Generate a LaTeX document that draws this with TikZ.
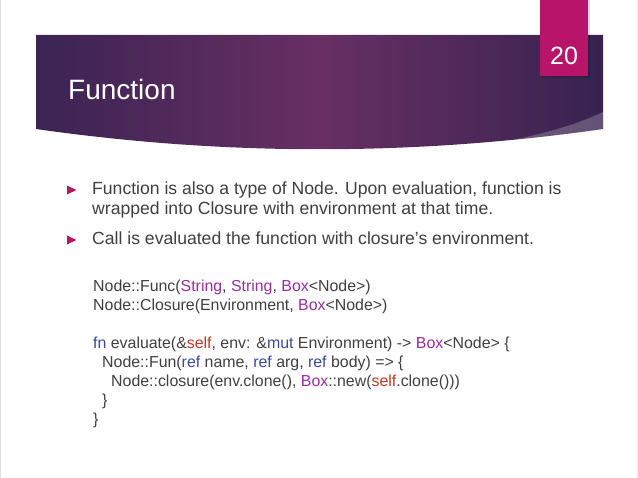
\documentclass[tikz,border=0pt]{standalone}
\usepackage{fontspec}
\setmainfont{Liberation Sans}
\definecolor{bandL}{HTML}{3B2453}
\definecolor{bandM}{HTML}{682F63}
\definecolor{bandR}{HTML}{372350}
\definecolor{tabc}{HTML}{B8146A}
\definecolor{bul}{HTML}{B5185E}
\definecolor{txt}{HTML}{404040}
\definecolor{kwp}{HTML}{9B2D9F}
\definecolor{kwr}{HTML}{C0392B}
\definecolor{kwb}{HTML}{3A4A9E}
\newcommand{\kp}[1]{\textcolor{kwp}{#1}}
\newcommand{\kr}[1]{\textcolor{kwr}{#1}}
\newcommand{\kb}[1]{\textcolor{kwb}{#1}}
\begin{document}
\begin{tikzpicture}[x=1pt,y=-1pt,
  bodytext/.style={anchor=base west,inner sep=0pt,text=txt,font=\fontsize{17.6}{20}\selectfont},
  codeline/.style={anchor=base west,inner sep=0pt,text=txt,font=\fontsize{15.9}{19}\selectfont},
  bulletmark/.style={fill=bul,draw=none}]
\useasboundingbox (0,0) rectangle (638,478);
\fill[white] (0,0) rectangle (638,478);
\draw[gray!25,line width=1pt] (0.5,0) -- (0.5,478);
\draw[gray!15,line width=1pt] (637.5,0) -- (637.5,478);
% banner
\path[left color=bandL,right color=bandR,middle color=bandM]
  (36,35) -- (603,35) -- (603,129)
  .. controls (414,156) and (225,156) .. (36,129) -- cycle;
\begin{scope}
\clip (36,35) -- (603,35) -- (603,129)
  .. controls (414,156) and (225,156) .. (36,129) -- cycle;
\fill[white,opacity=0.22] (603,112) .. controls (560,132) and (510,142) .. (440,152) -- (603,160) -- cycle;
\end{scope}
% tab
\fill[black,opacity=0.15] (541,0) rectangle (590,78);
\fill[tabc] (540,0) rectangle (588,76);
\node[anchor=base,inner sep=0pt,text=white,font=\fontsize{25}{25}\selectfont] (num) at (564,65) {20};
\node[anchor=base west,inner sep=0pt,text=white,font=\fontsize{28}{28}\selectfont] (title) at (68,100) {Function};
% bullets
\fill[bulletmark] (67,185.5) -- (76.5,190) -- (67,194.5) -- cycle;
\fill[bulletmark] (67,235.5) -- (76.5,240) -- (67,244.5) -- cycle;
\node[bodytext] (b1) at (92,195) {Function is also a type of Node. Upon evaluation, function is};
\node[bodytext] (b2) at (92,215) {wrapped into Closure with environment at that time.};
\node[bodytext] (b3) at (92,245) {Call is evaluated the function with closure’s environment.};
% code
\node[codeline] (c1) at (93,292) {Node::Func(\kp{String}, \kp{String}, \kp{Box}<Node>)};
\node[codeline] (c2) at (93,311) {Node::Closure(Environment, \kp{Box}<Node>)};
\node[codeline] (c3) at (93,349) {\kb{fn} evaluate(\&\kr{self}, env: \&\kb{mut} Environment) -> \kp{Box}<Node> \{};
\node[codeline] (c4) at (102,368) {Node::Fun(\kb{ref} name, \kb{ref} arg, \kb{ref} body) => \{};
\node[codeline] (c5) at (111,387) {Node::closure(env.clone(), \kp{Box}::new(\kr{self}.clone()))};
\node[codeline] (c6) at (102,406) {\}};
\node[codeline] (c7) at (93,425) {\}};
\end{tikzpicture}
\end{document}
